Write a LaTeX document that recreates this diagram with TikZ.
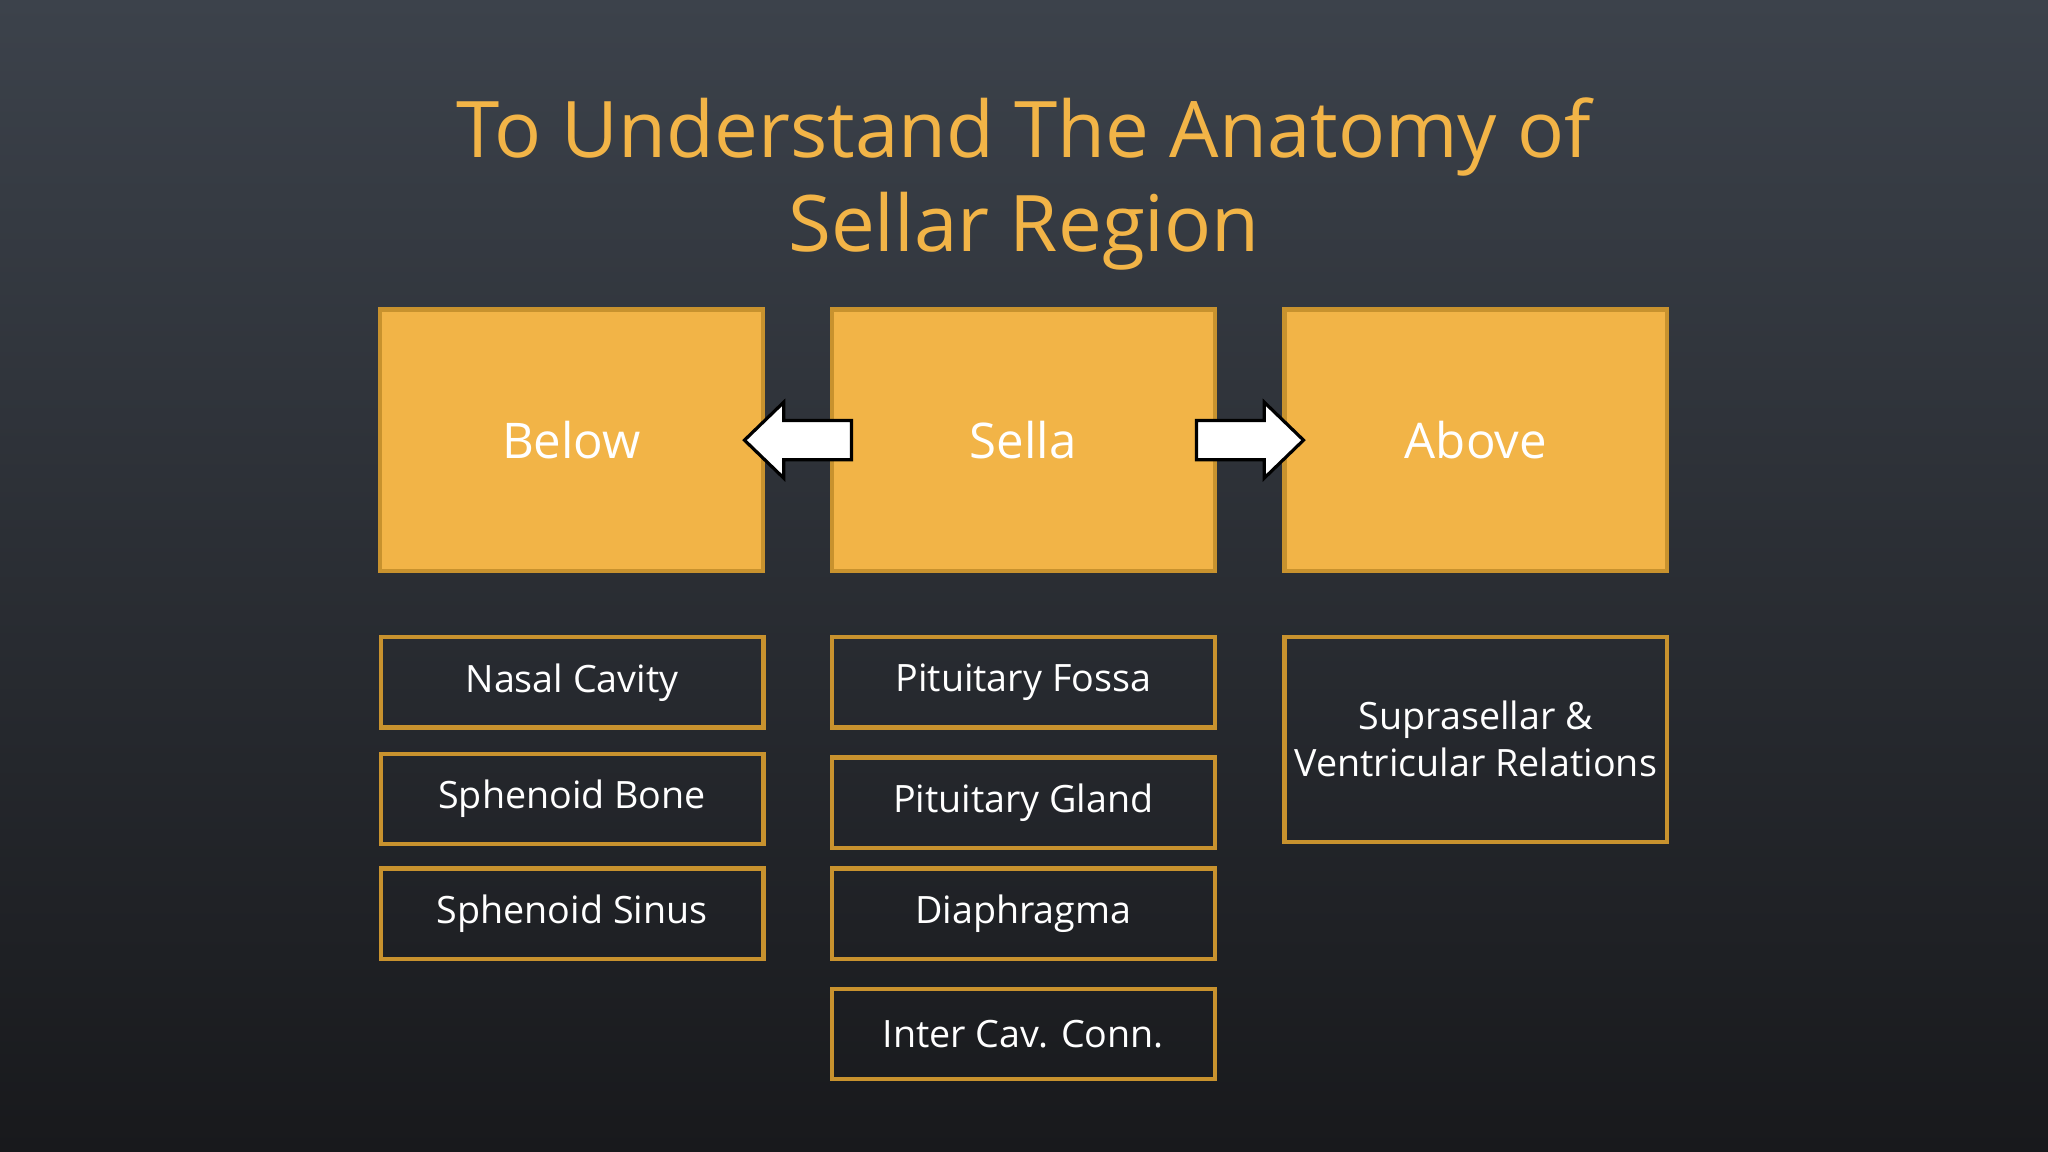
\documentclass[tikz,border=0pt]{standalone}
\usepackage{fontspec}
\setmainfont{Open Sans}
\definecolor{gold}{HTML}{F2B447}
\definecolor{goldline}{HTML}{C8922E}
\definecolor{bgtop}{HTML}{3C424B}
\definecolor{bgbot}{HTML}{18191C}
\tikzset{
  big/.style={draw=goldline,line width=0.9pt,fill=gold,minimum width=2.93cm,minimum height=2.0cm,text=white,font=\fontsize{10.7}{13}\selectfont,inner sep=0},
  small/.style={draw=goldline,line width=0.9pt,minimum width=2.93cm,minimum height=0.69cm,text=white,font=\fontsize{8.2}{10.2}\selectfont,inner sep=0,align=center},
  barrow/.style={draw=black,fill=white,line width=0.7pt,line join=miter}
}
\begin{document}
\begin{tikzpicture}[x=0.01cm,y=-0.01cm]
\shade[top color=bgtop,bottom color=bgbot] (0,0) rectangle (1568,882);
\useasboundingbox (0,0) rectangle (1568,882);
\node[text=gold,font=\fontsize{17}{20.5}\selectfont,align=center] (title) at (784,141) {To Understand The Anatomy of\\Sellar Region};
\node[big] (below) at (437.5,337) {Below};
\node[big] (sella) at (783.5,337) {Sella};
\node[big] (above) at (1130,337) {Above};
\coordinate (la) at (611,337);
\coordinate (ra) at (957,337);
\draw[barrow] (652,322) -- (600,322) -- (600,308) -- (570,337) -- (600,366) -- (600,352) -- (652,352) -- cycle;
\draw[barrow] (916,322) -- (968,322) -- (968,308) -- (998,337) -- (968,366) -- (968,352) -- (916,352) -- cycle;
\node[small] (n1) at (438,522.5) {Nasal Cavity};
\node[small] (n2) at (438,611.5) {Sphenoid Bone};
\node[small] (n3) at (438,699.5) {Sphenoid Sinus};
\node[small] (s1) at (783.5,522.5) {Pituitary Fossa};
\node[small] (s2) at (783.5,614.5) {Pituitary Gland};
\node[small] (s3) at (783.5,699.5) {Diaphragma};
\node[small] (s4) at (783.5,791.5) {Inter Cav. Conn.};
\node[small,minimum height=1.57cm] (a1) at (1130,566) {Suprasellar \&\\Ventricular Relations};
\end{tikzpicture}
\end{document}
